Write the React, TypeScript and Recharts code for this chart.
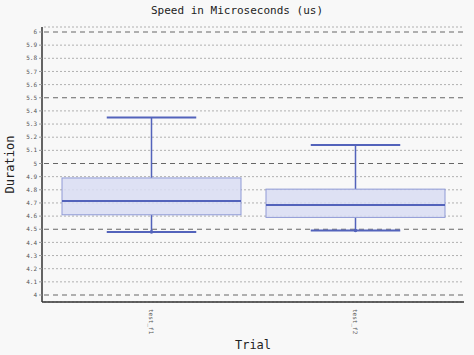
import React from 'react';
import { ComposedChart, Bar, XAxis, YAxis, CartesianGrid } from 'recharts';

const trials = ['test_f1', 'test_f2'];
const minValues = [4.48, 4.49];
const q1Values = [4.61, 4.59];
const medianValues = [4.715, 4.685];
const q3Values = [4.89, 4.805];
const maxValues = [5.35, 5.14];
const yTicks = [4, 4.1, 4.2, 4.3, 4.4, 4.5, 4.6, 4.7, 4.8, 4.9, 5, 5.1, 5.2, 5.3, 5.4, 5.5, 5.6, 5.7, 5.8, 5.9, 6];

const data = trials.map((t, i) => ({
  trial: t,
  min: minValues[i],
  q1: q1Values[i],
  median: medianValues[i],
  q3: q3Values[i],
  max: maxValues[i],
}));

const STROKE = '#5363bb';
const FILL = '#d9ddf3';
const FONT = '"DejaVu Sans Mono", monospace';

// draws the box + whiskers from the range bar [min, max]
const BoxShape = (props: any) => {
  const { x, y, width, height, payload } = props;
  if (!payload || height == null) return null;
  const { min, q1, median, q3, max } = payload;
  const k = height / (max - min);
  const py = (v: number) => y + (max - v) * k;
  const cx = x + width / 2;
  const capW = width / 2;
  return (
    <g>
      <line x1={cx} x2={cx} y1={py(max)} y2={py(q3)} stroke={STROKE} strokeWidth={1.5} />
      <line x1={cx} x2={cx} y1={py(q1)} y2={py(min)} stroke={STROKE} strokeWidth={1.5} />
      <line x1={cx - capW / 2} x2={cx + capW / 2} y1={py(max)} y2={py(max)} stroke={STROKE} strokeWidth={2} />
      <line x1={cx - capW / 2} x2={cx + capW / 2} y1={py(min)} y2={py(min)} stroke={STROKE} strokeWidth={2} />
      <rect x={x} y={py(q3)} width={width} height={py(q1) - py(q3)} fill={FILL} fillOpacity={0.85} stroke="#8f9ad6" strokeWidth={1} />
      <line x1={x} x2={x + width} y1={py(median)} y2={py(median)} stroke={STROKE} strokeWidth={2} />
      <circle cx={cx} cy={py(min)} r={1.8} fill={STROKE} />
    </g>
  );
};

const GridLine = (props: any) => {
  const { x1, x2, y1, y2, index } = props;
  const major = index % 5 === 0;
  return (
    <line
      x1={x1 + 2}
      x2={x2}
      y1={y1}
      y2={y2}
      stroke={major ? '#666' : '#b0b0b0'}
      strokeWidth={1}
      strokeDasharray={major ? '5 4' : '2 2'}
    />
  );
};

const XTick = (props: any) => {
  const { x, y, payload } = props;
  const ty = y - 1;
  return (
    <text x={x} y={ty} transform={`rotate(90 ${x} ${ty})`} textAnchor="start" dominantBaseline="middle" fontSize={6} fill="#555" fontFamily={FONT}>
      {payload.value}
    </text>
  );
};

const YLabel = (props: any) => {
  const { viewBox } = props;
  const cy = viewBox.y + viewBox.height / 2;
  return (
    <text x={14} y={cy} transform={`rotate(-90 14 ${cy})`} textAnchor="middle" fontFamily={FONT} fontSize={12} fill="#222">
      Duration
    </text>
  );
};

export default function App() {
  return (
    <div style={{ position: 'absolute', left: 0, top: 0, width: 474, height: 355, background: '#f8f8f8' }}>
      <div style={{ position: 'absolute', top: 4, width: 474, textAlign: 'center', fontFamily: FONT, fontSize: 11, color: '#222' }}>
        Speed in Microseconds (us)
      </div>
      <ComposedChart width={474} height={355} data={data} margin={{ top: 27, right: 10, bottom: 0, left: 0 }}>
        <CartesianGrid vertical={false} horizontal={<GridLine />} />
        <XAxis
          dataKey="trial"
          padding={{ left: 7, right: 7 }}
          axisLine={{ stroke: '#333', strokeWidth: 1.5 }}
          tickLine={false}
          tick={<XTick />}
          height={53}
          label={{ value: 'Trial', position: 'insideBottom', offset: 6, fontFamily: FONT, fontSize: 12, fill: '#222' }}
        />
        <YAxis
          type="number"
          domain={[4, 6]}
          ticks={yTicks}
          interval={0}
          width={42}
          padding={{ top: 5, bottom: 7 }}
          axisLine={{ stroke: '#333', strokeWidth: 1.5 }}
          tickLine={{ stroke: '#999' }}
          tickSize={3}
          tick={{ fontSize: 6, fill: '#555', fontFamily: FONT }}
          label={<YLabel />}
        />
        <Bar dataKey={(d: any) => [d.min, d.max]} barSize={179} shape={<BoxShape />} isAnimationActive={false} />
      </ComposedChart>
    </div>
  );
}
